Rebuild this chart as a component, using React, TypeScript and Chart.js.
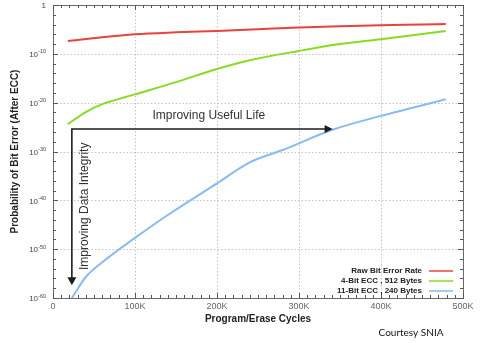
import { useEffect, useRef } from 'react';
import { Chart, registerables } from 'chart.js';

Chart.register(...registerables);

// ---------- data ----------
const seriesLabels = ['Raw Bit Error Rate', '4-Bit ECC , 512 Bytes', '11-Bit ECC , 240 Bytes'];
const seriesColors = ['#e8433d', '#86dc22', '#86bcf2'];

const rawX = [18000, 60000, 100000, 150000, 200000, 250000, 300000, 350000, 400000, 450000, 479000];
const rawY = [4e-8, 2.5e-7, 1e-6, 2.5e-6, 5e-6, 1.1e-5, 2.5e-5, 4.5e-5, 7e-5, 1e-4, 1.25e-4];

const ecc4X = [18000, 40000, 60000, 100000, 150000, 200000, 240000, 300000, 350000, 400000, 479000];
const ecc4Y = [4e-25, 1.2e-22, 5e-21, 5e-19, 1.6e-16, 8e-14, 5e-12, 4e-10, 1e-8, 1e-7, 5e-6];

const ecc11X = [23000, 40000, 60000, 100000, 140000, 200000, 240000, 280000, 340000, 400000, 440000, 479000];
const ecc11Y = [1e-60, 2e-56, 2e-53, 2e-48, 1e-43, 3e-37, 6e-33, 2e-30, 2.5e-26, 2e-23, 1e-21, 5e-20];

const xMajorTicks = [0, 100000, 200000, 300000, 400000, 500000];
const yMajorTicks = [1, 1e-10, 1e-20, 1e-30, 1e-40, 1e-50, 1e-60];

const xTitle = 'Program/Erase Cycles';
const yTitle = 'Probability of Bit Error (After ECC)';
const creditText = 'Courtesy SNIA';
const usefulLifeText = 'Improving Useful Life';
const dataIntegrityText = 'Improving Data Integrity';

// annotation anchors (data units)
const arrowCornerX = 23000;
const arrowCornerY = 4e-26;
const arrowRightX = 341000;
const arrowDownY = 4e-58;
const usefulLifeTextX = 190000;
const dataIntegrityTextY = 6e-42;

const FONT = '"Liberation Sans", Arial, sans-serif';

const decorPlugin = {
  id: 'decor',
  beforeDatasetsDraw(chart: any) {
    const { ctx, chartArea: a, scales } = chart;
    const x = scales.x, y = scales.y;
    ctx.save();
    ctx.strokeStyle = '#c4c4c4';
    ctx.lineWidth = 1;
    ctx.setLineDash([1.5, 2]);
    for (const v of xMajorTicks) {
      const px = Math.round(x.getPixelForValue(v)) + 0.5;
      if (px <= a.left + 2 || px >= a.right - 2) continue;
      ctx.beginPath(); ctx.moveTo(px, a.top); ctx.lineTo(px, a.bottom); ctx.stroke();
    }
    for (const v of yMajorTicks) {
      const py = Math.round(y.getPixelForValue(v)) + 0.5;
      if (py <= a.top + 2 || py >= a.bottom - 2) continue;
      ctx.beginPath(); ctx.moveTo(a.left, py); ctx.lineTo(a.right, py); ctx.stroke();
    }
    ctx.restore();
  },
  afterDraw(chart: any) {
    const { ctx, chartArea: a, scales } = chart;
    const x = scales.x, y = scales.y;
    ctx.save();
    // frame
    ctx.strokeStyle = '#6a6a6a';
    ctx.lineWidth = 1;
    ctx.strokeRect(Math.round(a.left) + 0.5, Math.round(a.top) + 0.5, Math.round(a.right - a.left), Math.round(a.bottom - a.top));
    // minor / major ticks
    ctx.strokeStyle = '#555';
    const xMin = x.min, xMax = x.max;
    for (let v = xMin; v <= xMax; v += 10000) {
      const px = Math.round(x.getPixelForValue(v)) + 0.5;
      const len = v % 100000 === 0 ? 5 : 3;
      ctx.beginPath();
      ctx.moveTo(px, a.bottom); ctx.lineTo(px, a.bottom - len);
      ctx.moveTo(px, a.top); ctx.lineTo(px, a.top + len);
      ctx.stroke();
    }
    for (let e = 0; e >= -60; e -= 2) {
      const py = Math.round(y.getPixelForValue(Math.pow(10, e))) + 0.5;
      const len = e % 10 === 0 ? 5 : 3;
      ctx.beginPath();
      ctx.moveTo(a.left, py); ctx.lineTo(a.left + len, py);
      ctx.moveTo(a.right, py); ctx.lineTo(a.right - len, py);
      ctx.stroke();
    }
    // y tick labels with superscripts
    ctx.fillStyle = '#444';
    ctx.textBaseline = 'middle';
    ctx.textAlign = 'left';
    const rightEdge = a.left - 7;
    for (const v of yMajorTicks) {
      const py = y.getPixelForValue(v);
      const exp = Math.round(Math.log10(v));
      if (exp === 0) {
        ctx.font = `8px ${FONT}`;
        const w = ctx.measureText('1').width;
        ctx.fillText('1', rightEdge - w, py + 1);
        continue;
      }
      const sup = String(exp);
      ctx.font = `5.5px ${FONT}`;
      const sw = ctx.measureText(sup).width;
      ctx.font = `8px ${FONT}`;
      const bw = ctx.measureText('10').width;
      ctx.fillText('10', rightEdge - sw - bw, py + 1);
      ctx.font = `5.5px ${FONT}`;
      ctx.fillText(sup, rightEdge - sw, py - 2);
    }
    // arrows
    const cx = x.getPixelForValue(arrowCornerX);
    const cy = y.getPixelForValue(arrowCornerY);
    const ex = x.getPixelForValue(arrowRightX);
    const by = y.getPixelForValue(arrowDownY);
    ctx.strokeStyle = '#1c1c1c';
    ctx.fillStyle = '#1c1c1c';
    ctx.lineWidth = 1.6;
    ctx.beginPath();
    ctx.moveTo(ex - 7, cy); ctx.lineTo(cx, cy); ctx.lineTo(cx, by - 7);
    ctx.stroke();
    ctx.beginPath();
    ctx.moveTo(ex, cy); ctx.lineTo(ex - 8, cy - 4); ctx.lineTo(ex - 8, cy + 4); ctx.closePath(); ctx.fill();
    ctx.beginPath();
    ctx.moveTo(cx, by); ctx.lineTo(cx - 4.5, by - 8); ctx.lineTo(cx + 4.5, by - 8); ctx.closePath(); ctx.fill();
    // arrow texts
    ctx.fillStyle = '#333';
    ctx.font = `12px ${FONT}`;
    ctx.textAlign = 'center';
    ctx.textBaseline = 'middle';
    ctx.fillText(usefulLifeText, x.getPixelForValue(usefulLifeTextX), cy - 13);
    ctx.save();
    ctx.translate(cx + 13, y.getPixelForValue(dataIntegrityTextY));
    ctx.rotate(-Math.PI / 2);
    ctx.fillText(dataIntegrityText, 0, 0);
    ctx.restore();
    // legend
    const ds = chart.data.datasets;
    ctx.font = `bold 8px ${FONT}`;
    ctx.textAlign = 'right';
    ctx.textBaseline = 'middle';
    const swX1 = a.right - 34, swX2 = a.right - 10;
    for (let i = 0; i < ds.length; i++) {
      const ly = a.bottom - 27 + i * 10;
      ctx.fillStyle = '#222';
      ctx.fillText(ds[i].label, swX1 - 7, ly);
      ctx.strokeStyle = ds[i].borderColor;
      ctx.lineWidth = 1.5;
      ctx.beginPath(); ctx.moveTo(swX1, ly); ctx.lineTo(swX2, ly); ctx.stroke();
    }
    // credit
    ctx.fillStyle = '#111';
    ctx.font = '10px Lato, "Open Sans", sans-serif';
    ctx.textAlign = 'center';
    ctx.fillText(creditText, 411, 333);
    ctx.restore();
  },
};

export default function App() {
  const ref = useRef<HTMLCanvasElement>(null);
  useEffect(() => {
    if (!ref.current) return;
    const mk = (xs: number[], ys: number[]) => xs.map((v, i) => ({ x: v, y: ys[i] }));
    const chart = new Chart(ref.current, {
      type: 'line',
      data: {
        datasets: [
          { label: seriesLabels[0], data: mk(rawX, rawY), borderColor: seriesColors[0] },
          { label: seriesLabels[1], data: mk(ecc4X, ecc4Y), borderColor: seriesColors[1] },
          { label: seriesLabels[2], data: mk(ecc11X, ecc11Y), borderColor: seriesColors[2] },
        ].map((d) => ({ ...d, borderWidth: 2, pointRadius: 0, cubicInterpolationMode: 'monotone', fill: false })),
      },
      options: {
        animation: false,
        responsive: false,
        layout: { padding: { top: 5, right: 17, left: 0, bottom: 0 } },
        plugins: { legend: { display: false }, tooltip: { enabled: false } },
        scales: {
          x: {
            type: 'linear',
            min: 0,
            max: 500000,
            afterBuildTicks: (s: any) => { s.ticks = xMajorTicks.map((v) => ({ value: v })); },
            afterFit: (s: any) => { s.height = 45; },
            grid: { display: false, drawTicks: false },
            border: { display: false },
            ticks: {
              padding: 3,
              maxRotation: 0,
              autoSkip: false,
              color: '#666',
              font: { family: FONT, size: 9 },
              callback: (v: any) => (v === 0 ? '0' : `${v / 1000}K`),
            },
            title: {
              display: true,
              text: xTitle,
              color: '#222',
              font: { family: FONT, size: 10, weight: 'bold' },
              padding: { top: 0, bottom: 18 },
            },
          },
          y: {
            type: 'logarithmic',
            min: 1e-60,
            max: 1,
            afterBuildTicks: (s: any) => { s.ticks = yMajorTicks.map((v) => ({ value: v })); },
            afterFit: (s: any) => { s.width = 53; },
            grid: { display: false, drawTicks: false },
            border: { display: false },
            ticks: { display: false },
            title: {
              display: true,
              text: yTitle,
              color: '#222',
              font: { family: FONT, size: 10, weight: 'bold' },
              padding: { top: 9, bottom: 0 },
            },
          },
        },
      } as any,
      plugins: [decorPlugin],
    });
    return () => chart.destroy();
  }, []);
  return (
    <div style={{ position: 'fixed', left: 0, top: 0, width: 480, height: 343, background: '#fff' }}>
      <canvas ref={ref} width={480} height={343} style={{ width: 480, height: 343, display: 'block' }} />
    </div>
  );
}
